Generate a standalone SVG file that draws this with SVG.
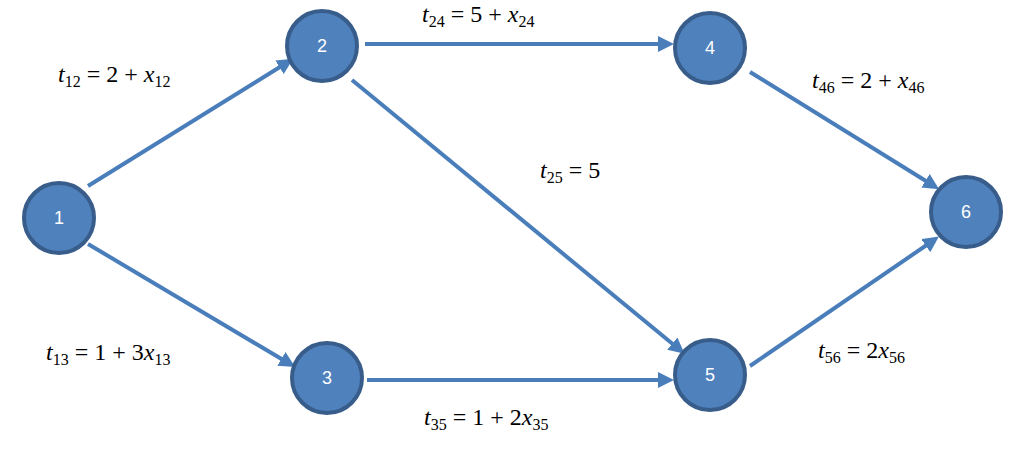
<svg xmlns="http://www.w3.org/2000/svg" width="1024" height="449" viewBox="0 0 1024 449">
<style>
.n{fill:#4f81bd;stroke:#385d8a;stroke-width:4}
.nt{font-family:"Liberation Sans",sans-serif;font-size:18px;fill:#fff;text-anchor:middle}
.e{stroke:#4a7ebb;stroke-width:4;fill:none;marker-end:url(#a)}
.l{font-family:"Liberation Serif",serif;font-size:24px;fill:#000}
.i{font-style:italic}
.s{font-size:16px}
</style>
<defs><marker id="a" markerWidth="4" markerHeight="4" refX="2.5" refY="2" orient="auto"><path d="M0,0L4,2L0,4z" fill="#4a7ebb"/></marker></defs>
<rect width="1024" height="449" fill="#fff"/>
<g id="connectors">
<line class="e" x1="88" y1="186" x2="288" y2="62"/>
<line class="e" x1="88" y1="244" x2="290" y2="364"/>
<line class="e" x1="365" y1="44" x2="668" y2="44"/>
<line class="e" x1="352" y1="80" x2="680" y2="350"/>
<line class="e" x1="367" y1="380" x2="668" y2="380"/>
<line class="e" x1="750" y1="72" x2="934" y2="186"/>
<line class="e" x1="750" y1="366" x2="934" y2="240"/>
</g>
<g id="n1"><circle class="n" cx="59" cy="218" r="35"/><text class="nt" x="59" y="224">1</text></g>
<g id="n2"><circle class="n" cx="322" cy="46" r="35"/><text class="nt" x="322" y="52">2</text></g>
<g id="n3"><circle class="n" cx="327" cy="378" r="35"/><text class="nt" x="327" y="384">3</text></g>
<g id="n4"><circle class="n" cx="710" cy="48" r="35"/><text class="nt" x="710" y="54">4</text></g>
<g id="n5"><circle class="n" cx="710" cy="375" r="35"/><text class="nt" x="710" y="381">5</text></g>
<g id="n6"><circle class="n" cx="966" cy="212" r="35"/><text class="nt" x="966" y="218">6</text></g>
<g id="labels">
<text class="l" x="58" y="82"><tspan class="i">t</tspan><tspan class="s" dy="5">12</tspan><tspan dy="-5"> = 2 + </tspan><tspan class="i">x</tspan><tspan class="s" dy="5">12</tspan></text>
<text class="l" x="422" y="22"><tspan class="i">t</tspan><tspan class="s" dy="5">24</tspan><tspan dy="-5"> = 5 + </tspan><tspan class="i">x</tspan><tspan class="s" dy="5">24</tspan></text>
<text class="l" x="812" y="88"><tspan class="i">t</tspan><tspan class="s" dy="5">46</tspan><tspan dy="-5"> = 2 + </tspan><tspan class="i">x</tspan><tspan class="s" dy="5">46</tspan></text>
<text class="l" x="540" y="178"><tspan class="i">t</tspan><tspan class="s" dy="5">25</tspan><tspan dy="-5"> = 5</tspan></text>
<text class="l" x="46" y="360"><tspan class="i">t</tspan><tspan class="s" dy="5">13</tspan><tspan dy="-5"> = 1 + 3</tspan><tspan class="i">x</tspan><tspan class="s" dy="5">13</tspan></text>
<text class="l" x="818" y="358"><tspan class="i">t</tspan><tspan class="s" dy="5">56</tspan><tspan dy="-5"> = 2</tspan><tspan class="i">x</tspan><tspan class="s" dy="5">56</tspan></text>
<text class="l" x="424" y="425"><tspan class="i">t</tspan><tspan class="s" dy="5">35</tspan><tspan dy="-5"> = 1 + 2</tspan><tspan class="i">x</tspan><tspan class="s" dy="5">35</tspan></text>
</g>
</svg>
